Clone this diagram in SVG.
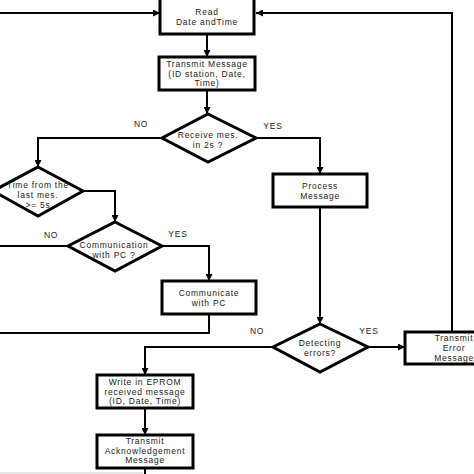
<svg xmlns="http://www.w3.org/2000/svg" width="474" height="474" viewBox="0 0 474 474">
<defs>
<marker id="ah" viewBox="0 0 10 10" refX="10" refY="5" markerWidth="7" markerHeight="7" markerUnits="userSpaceOnUse" orient="auto">
<path d="M0,0 L10,5 L0,10 z" fill="#000"/>
</marker>
<style>
.box{fill:#fff;stroke:#000;stroke-width:3}
.con{fill:none;stroke:#000;stroke-width:2}
.arr{marker-end:url(#ah)}
text{font-family:"Liberation Sans",Arial,sans-serif;font-size:8.5px;letter-spacing:0.75px;fill:#222;text-anchor:middle}
</style>
</defs>
<rect x="0" y="0" width="474" height="474" fill="#fff"/>
<rect x="0" y="472" width="143" height="2" fill="#e6e6e6"/>
<g id="connectors">
<path class="con arr" d="M0,13 L160,13"/>
<path class="con arr" d="M452,332 L452,13 L256,13"/>
<path class="con arr" d="M207,34 L207,57"/>
<path class="con arr" d="M207,90 L207,114"/>
<path class="con arr" d="M162,138 L38,138 L38,167"/>
<path class="con arr" d="M83,191 L115,191 L115,222"/>
<path class="con" d="M68,246 L0,246"/>
<path class="con arr" d="M162,246 L209,246 L209,281"/>
<path class="con" d="M209,314 L209,333 L0,333"/>
<path class="con arr" d="M256,138 L320,138 L320,174"/>
<path class="con arr" d="M320,207 L320,324"/>
<path class="con arr" d="M368,347 L405,347"/>
<path class="con arr" d="M273,347 L145,347 L145,375"/>
<path class="con arr" d="M145,408 L145,435"/>
<path class="con" d="M145,468 L145,474"/>
</g>
<g id="labels">
<text x="141" y="127.1">NO</text>
<text x="273" y="129.1">YES</text>
<text x="51" y="238.1">NO</text>
<text x="178" y="237.1">YES</text>
<text x="257" y="334.1">NO</text>
<text x="369" y="334.1">YES</text>
</g>
<g id="read">
<rect class="box" x="160" y="-2" width="94" height="36"/>
<text x="207" y="15.4">Read</text>
<text x="207" y="25.4">Date andTime</text>
</g>
<g id="transmit-message">
<rect class="box" x="159" y="57" width="96" height="33"/>
<text x="207" y="66.9">Transmit Message</text>
<text x="207" y="76.6">(ID station, Date,</text>
<text x="207" y="86.3">Time)</text>
</g>
<g id="receive">
<path class="box" d="M208,114 L256,138 L208,162 L162,138 Z"/>
<text x="208" y="138.1">Receive mes.</text>
<text x="208" y="147.8">in 2s ?</text>
</g>
<g id="time-from">
<path class="box" d="M38,167 L83,191 L38,216 L-7,191 Z"/>
<text x="38" y="188.1">Time from the</text>
<text x="38" y="197.8">last mes.</text>
<text x="38" y="207.5">&gt;= 5s</text>
</g>
<g id="communication">
<path class="box" d="M115,222 L162,246 L115,271 L68,246 Z"/>
<text x="114" y="248.1">Communication</text>
<text x="114" y="257.9">with PC ?</text>
</g>
<g id="communicate">
<rect class="box" x="162" y="281" width="94" height="33"/>
<text x="209" y="296">Communicate</text>
<text x="209" y="305.8">with PC</text>
</g>
<g id="process">
<rect class="box" x="273" y="174" width="94" height="33"/>
<text x="320" y="189.1">Process</text>
<text x="320" y="198.8">Message</text>
</g>
<g id="detecting">
<path class="box" d="M320,324 L368,347 L320,372 L273,347 Z"/>
<text x="320" y="346.1">Detecting</text>
<text x="320" y="355.8">errors?</text>
</g>
<g id="transmit-error">
<rect class="box" x="405" y="332" width="90" height="32"/>
<text x="454" y="341.1">Transmit</text>
<text x="454" y="350.8">Error</text>
<text x="454" y="360.5">Message</text>
</g>
<g id="write-eprom">
<rect class="box" x="97" y="375" width="96" height="33"/>
<text x="145" y="384.9">Write in EPROM</text>
<text x="145" y="394.6">received message</text>
<text x="145" y="404.3">(ID, Date, Time)</text>
</g>
<g id="transmit-ack">
<rect class="box" x="97" y="435" width="96" height="33"/>
<text x="145" y="443.9">Transmit</text>
<text x="145" y="453.6">Acknowledgement</text>
<text x="145" y="463.3">Message</text>
</g>
</svg>
